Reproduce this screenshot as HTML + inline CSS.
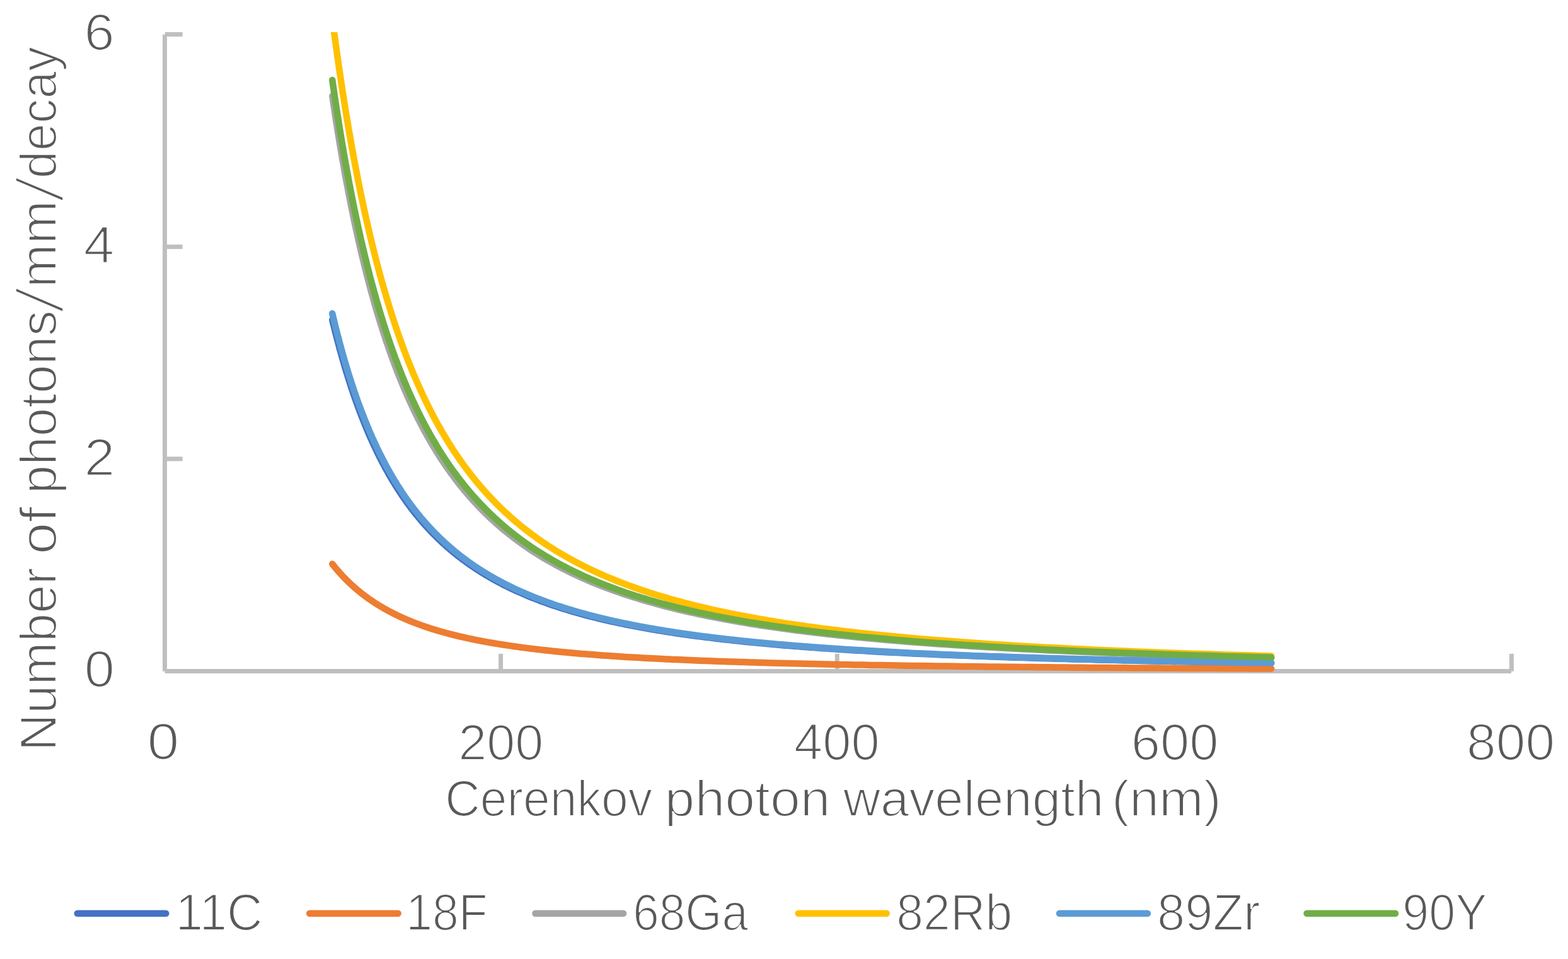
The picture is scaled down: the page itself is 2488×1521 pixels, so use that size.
<!DOCTYPE html>
<html><head><meta charset="utf-8"><title>Cerenkov photon wavelength chart</title>
<style>html,body{margin:0;padding:0;background:#fff;overflow:hidden;}svg{display:block;}</style>
</head><body>
<svg width="2488" height="1521" viewBox="0 0 2488 1521">
<defs><clipPath id="pc"><rect x="250" y="51" width="2200" height="1030"/></clipPath></defs>
<rect width="2488" height="1521" fill="#fff"/>
<line x1="261.5" y1="54.8" x2="261.5" y2="1064.8" stroke="#BFBFBF" stroke-width="7"/>
<line x1="261.8" y1="1064.5" x2="2398" y2="1064.5" stroke="#BFBFBF" stroke-width="7"/>
<line x1="261.8" y1="54.5" x2="289.6" y2="54.5" stroke="#BFBFBF" stroke-width="7"/>
<line x1="261.8" y1="391.4" x2="289.6" y2="391.4" stroke="#BFBFBF" stroke-width="7"/>
<line x1="261.8" y1="727.8" x2="289.6" y2="727.8" stroke="#BFBFBF" stroke-width="7"/>
<line x1="794.6" y1="1036.9" x2="794.6" y2="1064.7" stroke="#BFBFBF" stroke-width="7"/>
<line x1="1328.3" y1="1036.9" x2="1328.3" y2="1064.7" stroke="#BFBFBF" stroke-width="7"/>
<line x1="1863.4" y1="1036.9" x2="1863.4" y2="1064.7" stroke="#BFBFBF" stroke-width="7"/>
<line x1="2398.4" y1="1036.9" x2="2398.4" y2="1064.7" stroke="#BFBFBF" stroke-width="7"/>
<g clip-path="url(#pc)" fill="none" stroke-width="10.5" stroke-linejoin="round" stroke-linecap="round">
<path d="M527.3 507.3 L528.6 512.9 L530.0 518.3 L531.3 523.7 L532.6 529.0 L534.0 534.2 L535.3 539.3 L536.7 544.4 L538.0 549.4 L539.3 554.3 L540.7 559.1 L542.0 563.9 L543.3 568.6 L544.7 573.3 L546.0 577.8 L547.3 582.4 L548.7 586.8 L550.0 591.2 L551.4 595.5 L552.7 599.8 L554.0 604.0 L555.4 608.2 L556.7 612.3 L558.0 616.3 L559.4 620.3 L560.7 624.3 L562.0 628.2 L563.4 632.0 L564.7 635.8 L566.1 639.5 L567.4 643.2 L568.7 646.8 L570.1 650.4 L571.4 654.0 L572.7 657.5 L574.1 660.9 L575.4 664.3 L576.8 667.7 L578.1 671.0 L579.4 674.3 L580.8 677.6 L582.1 680.8 L583.4 683.9 L584.8 687.1 L586.1 690.2 L587.4 693.2 L588.8 696.2 L590.1 699.2 L591.5 702.1 L592.8 705.0 L594.1 707.9 L595.5 710.7 L596.8 713.5 L598.1 716.3 L599.5 719.1 L600.8 721.8 L602.1 724.4 L603.5 727.1 L604.8 729.7 L606.2 732.3 L607.5 734.8 L608.8 737.3 L610.2 739.8 L611.5 742.3 L612.8 744.7 L614.2 747.1 L615.5 749.5 L616.8 751.9 L618.2 754.2 L619.5 756.5 L620.9 758.8 L622.2 761.0 L623.5 763.3 L624.9 765.5 L626.2 767.6 L627.5 769.8 L628.9 771.9 L630.2 774.0 L631.5 776.1 L632.9 778.2 L634.2 780.2 L635.6 782.2 L636.9 784.2 L638.2 786.2 L639.6 788.2 L640.9 790.1 L642.2 792.0 L643.6 793.9 L644.9 795.8 L646.2 797.7 L647.6 799.5 L648.9 801.3 L650.3 803.1 L651.6 804.9 L652.9 806.7 L654.3 808.4 L655.6 810.1 L656.9 811.8 L658.3 813.5 L659.6 815.2 L661.0 816.9 L662.3 818.5 L663.6 820.1 L665.0 821.7 L666.3 823.3 L667.6 824.9 L669.0 826.5 L670.3 828.0 L671.6 829.6 L673.0 831.1 L674.3 832.6 L675.7 834.1 L677.0 835.6 L678.3 837.0 L679.7 838.5 L681.0 839.9 L682.3 841.3 L683.7 842.7 L685.0 844.1 L686.3 845.5 L687.7 846.9 L689.0 848.2 L690.4 849.5 L691.7 850.9 L693.0 852.2 L694.4 853.5 L695.7 854.8 L697.0 856.1 L698.4 857.3 L699.7 858.6 L701.0 859.8 L702.4 861.1 L703.7 862.3 L705.1 863.5 L706.4 864.7 L707.7 865.9 L709.1 867.1 L710.4 868.3 L711.7 869.4 L713.1 870.6 L714.4 871.7 L715.7 872.8 L717.1 874.0 L718.4 875.1 L719.8 876.2 L721.1 877.3 L722.4 878.3 L723.8 879.4 L725.1 880.5 L726.4 881.5 L727.8 882.6 L729.1 883.6 L730.4 884.6 L731.8 885.6 L733.1 886.7 L734.5 887.7 L735.8 888.6 L737.1 889.6 L738.5 890.6 L739.8 891.6 L741.1 892.5 L742.5 893.5 L743.8 894.4 L745.1 895.4 L746.5 896.3 L747.8 897.2 L749.2 898.1 L750.5 899.0 L751.8 899.9 L753.2 900.8 L754.5 901.7 L755.8 902.6 L757.2 903.4 L758.5 904.3 L759.9 905.2 L761.2 906.0 L762.5 906.9 L763.9 907.7 L765.2 908.5 L766.5 909.3 L767.9 910.2 L769.2 911.0 L770.5 911.8 L771.9 912.6 L773.2 913.4 L774.6 914.1 L775.9 914.9 L777.2 915.7 L778.6 916.5 L779.9 917.2 L781.2 918.0 L782.6 918.7 L783.9 919.5 L785.2 920.2 L786.6 920.9 L787.9 921.7 L789.3 922.4 L790.6 923.1 L791.9 923.8 L793.3 924.5 L794.6 925.2 L799.9 928.0 L805.3 930.6 L810.6 933.2 L816.0 935.7 L821.3 938.2 L826.7 940.5 L832.0 942.8 L837.4 945.1 L842.7 947.3 L848.1 949.4 L853.4 951.4 L858.8 953.5 L864.1 955.4 L869.4 957.3 L874.8 959.2 L880.1 961.0 L885.5 962.7 L890.8 964.5 L896.2 966.1 L901.5 967.8 L906.9 969.4 L912.2 970.9 L917.6 972.4 L922.9 973.9 L928.2 975.4 L933.6 976.8 L938.9 978.1 L944.3 979.5 L949.6 980.8 L955.0 982.1 L960.3 983.3 L965.7 984.6 L971.0 985.8 L976.4 986.9 L981.7 988.1 L987.1 989.2 L992.4 990.3 L997.7 991.4 L1003.1 992.4 L1008.4 993.4 L1013.8 994.4 L1019.1 995.4 L1024.5 996.4 L1029.8 997.3 L1035.2 998.2 L1040.5 999.2 L1045.9 1000.0 L1051.2 1000.9 L1056.6 1001.8 L1061.9 1002.6 L1067.2 1003.4 L1072.6 1004.2 L1077.9 1005.0 L1083.3 1005.8 L1088.6 1006.5 L1094.0 1007.3 L1099.3 1008.0 L1104.7 1008.7 L1110.0 1009.4 L1115.4 1010.1 L1120.7 1010.8 L1126.1 1011.4 L1131.4 1012.1 L1136.7 1012.7 L1142.1 1013.3 L1147.4 1014.0 L1152.8 1014.6 L1158.1 1015.1 L1163.5 1015.7 L1168.8 1016.3 L1174.2 1016.9 L1179.5 1017.4 L1184.9 1018.0 L1190.2 1018.5 L1195.6 1019.0 L1200.9 1019.5 L1206.2 1020.0 L1211.6 1020.5 L1216.9 1021.0 L1222.3 1021.5 L1227.6 1022.0 L1233.0 1022.4 L1238.3 1022.9 L1243.7 1023.4 L1249.0 1023.8 L1254.4 1024.2 L1259.7 1024.7 L1265.0 1025.1 L1270.4 1025.5 L1275.7 1025.9 L1281.1 1026.3 L1286.4 1026.7 L1291.8 1027.1 L1297.1 1027.5 L1302.5 1027.9 L1307.8 1028.2 L1313.2 1028.6 L1318.5 1029.0 L1323.9 1029.3 L1329.2 1029.7 L1342.6 1030.5 L1355.9 1031.4 L1369.3 1032.1 L1382.7 1032.9 L1396.0 1033.7 L1409.4 1034.4 L1422.8 1035.1 L1436.1 1035.7 L1449.5 1036.4 L1462.8 1037.0 L1476.2 1037.6 L1489.6 1038.2 L1502.9 1038.7 L1516.3 1039.3 L1529.7 1039.8 L1543.0 1040.3 L1556.4 1040.8 L1569.8 1041.3 L1583.1 1041.8 L1596.5 1042.2 L1609.9 1042.7 L1623.2 1043.1 L1636.6 1043.5 L1650.0 1043.9 L1663.3 1044.3 L1676.7 1044.7 L1690.1 1045.0 L1703.4 1045.4 L1716.8 1045.7 L1730.2 1046.1 L1743.5 1046.4 L1756.9 1046.7 L1770.2 1047.0 L1783.6 1047.4 L1797.0 1047.6 L1810.3 1047.9 L1823.7 1048.2 L1837.1 1048.5 L1850.4 1048.8 L1863.8 1049.0 L1877.2 1049.3 L1890.5 1049.5 L1903.9 1049.8 L1917.3 1050.0 L1930.6 1050.2 L1944.0 1050.5 L1957.4 1050.7 L1970.7 1050.9 L1984.1 1051.1 L1997.5 1051.3 L2010.8 1051.5 L2017.2 1051.6" stroke="#4472C4"/>
<path d="M527.3 894.5 L528.6 896.2 L530.0 897.8 L531.3 899.5 L532.6 901.1 L534.0 902.7 L535.3 904.2 L536.7 905.8 L538.0 907.3 L539.3 908.8 L540.7 910.3 L542.0 911.8 L543.3 913.2 L544.7 914.6 L546.0 916.0 L547.3 917.4 L548.7 918.7 L550.0 920.1 L551.4 921.4 L552.7 922.7 L554.0 924.0 L555.4 925.3 L556.7 926.5 L558.0 927.7 L559.4 929.0 L560.7 930.2 L562.0 931.4 L563.4 932.5 L564.7 933.7 L566.1 934.8 L567.4 935.9 L568.7 937.1 L570.1 938.2 L571.4 939.2 L572.7 940.3 L574.1 941.4 L575.4 942.4 L576.8 943.4 L578.1 944.4 L579.4 945.4 L580.8 946.4 L582.1 947.4 L583.4 948.4 L584.8 949.3 L586.1 950.3 L587.4 951.2 L588.8 952.1 L590.1 953.0 L591.5 953.9 L592.8 954.8 L594.1 955.7 L595.5 956.6 L596.8 957.4 L598.1 958.3 L599.5 959.1 L600.8 959.9 L602.1 960.7 L603.5 961.5 L604.8 962.3 L606.2 963.1 L607.5 963.9 L608.8 964.7 L610.2 965.4 L611.5 966.2 L612.8 966.9 L614.2 967.7 L615.5 968.4 L616.8 969.1 L618.2 969.8 L619.5 970.5 L620.9 971.2 L622.2 971.9 L623.5 972.6 L624.9 973.3 L626.2 973.9 L627.5 974.6 L628.9 975.2 L630.2 975.9 L631.5 976.5 L632.9 977.1 L634.2 977.8 L635.6 978.4 L636.9 979.0 L638.2 979.6 L639.6 980.2 L640.9 980.8 L642.2 981.4 L643.6 981.9 L644.9 982.5 L646.2 983.1 L647.6 983.6 L648.9 984.2 L650.3 984.7 L651.6 985.3 L652.9 985.8 L654.3 986.4 L655.6 986.9 L656.9 987.4 L658.3 987.9 L659.6 988.4 L661.0 988.9 L662.3 989.4 L663.6 989.9 L665.0 990.4 L666.3 990.9 L667.6 991.4 L669.0 991.9 L670.3 992.3 L671.6 992.8 L673.0 993.3 L674.3 993.7 L675.7 994.2 L677.0 994.6 L678.3 995.1 L679.7 995.5 L681.0 996.0 L682.3 996.4 L683.7 996.8 L685.0 997.3 L686.3 997.7 L687.7 998.1 L689.0 998.5 L690.4 998.9 L691.7 999.3 L693.0 999.7 L694.4 1000.1 L695.7 1000.5 L697.0 1000.9 L698.4 1001.3 L699.7 1001.7 L701.0 1002.1 L702.4 1002.4 L703.7 1002.8 L705.1 1003.2 L706.4 1003.5 L707.7 1003.9 L709.1 1004.3 L710.4 1004.6 L711.7 1005.0 L713.1 1005.3 L714.4 1005.7 L715.7 1006.0 L717.1 1006.4 L718.4 1006.7 L719.8 1007.0 L721.1 1007.4 L722.4 1007.7 L723.8 1008.0 L725.1 1008.3 L726.4 1008.7 L727.8 1009.0 L729.1 1009.3 L730.4 1009.6 L731.8 1009.9 L733.1 1010.2 L734.5 1010.5 L735.8 1010.8 L737.1 1011.1 L738.5 1011.4 L739.8 1011.7 L741.1 1012.0 L742.5 1012.3 L743.8 1012.6 L745.1 1012.9 L746.5 1013.2 L747.8 1013.5 L749.2 1013.7 L750.5 1014.0 L751.8 1014.3 L753.2 1014.6 L754.5 1014.8 L755.8 1015.1 L757.2 1015.4 L758.5 1015.6 L759.9 1015.9 L761.2 1016.1 L762.5 1016.4 L763.9 1016.7 L765.2 1016.9 L766.5 1017.2 L767.9 1017.4 L769.2 1017.7 L770.5 1017.9 L771.9 1018.1 L773.2 1018.4 L774.6 1018.6 L775.9 1018.9 L777.2 1019.1 L778.6 1019.3 L779.9 1019.6 L781.2 1019.8 L782.6 1020.0 L783.9 1020.2 L785.2 1020.5 L786.6 1020.7 L787.9 1020.9 L789.3 1021.1 L790.6 1021.4 L791.9 1021.6 L793.3 1021.8 L794.6 1022.0 L799.9 1022.8 L805.3 1023.6 L810.6 1024.4 L816.0 1025.2 L821.3 1025.9 L826.7 1026.7 L832.0 1027.4 L837.4 1028.1 L842.7 1028.7 L848.1 1029.4 L853.4 1030.0 L858.8 1030.6 L864.1 1031.2 L869.4 1031.8 L874.8 1032.4 L880.1 1032.9 L885.5 1033.5 L890.8 1034.0 L896.2 1034.5 L901.5 1035.0 L906.9 1035.5 L912.2 1035.9 L917.6 1036.4 L922.9 1036.9 L928.2 1037.3 L933.6 1037.7 L938.9 1038.1 L944.3 1038.6 L949.6 1039.0 L955.0 1039.4 L960.3 1039.7 L965.7 1040.1 L971.0 1040.5 L976.4 1040.8 L981.7 1041.2 L987.1 1041.5 L992.4 1041.9 L997.7 1042.2 L1003.1 1042.5 L1008.4 1042.8 L1013.8 1043.1 L1019.1 1043.4 L1024.5 1043.7 L1029.8 1044.0 L1035.2 1044.3 L1040.5 1044.6 L1045.9 1044.8 L1051.2 1045.1 L1056.6 1045.4 L1061.9 1045.6 L1067.2 1045.9 L1072.6 1046.1 L1077.9 1046.3 L1083.3 1046.6 L1088.6 1046.8 L1094.0 1047.0 L1099.3 1047.3 L1104.7 1047.5 L1110.0 1047.7 L1115.4 1047.9 L1120.7 1048.1 L1126.1 1048.3 L1131.4 1048.5 L1136.7 1048.7 L1142.1 1048.9 L1147.4 1049.1 L1152.8 1049.3 L1158.1 1049.4 L1163.5 1049.6 L1168.8 1049.8 L1174.2 1050.0 L1179.5 1050.1 L1184.9 1050.3 L1190.2 1050.5 L1195.6 1050.6 L1200.9 1050.8 L1206.2 1050.9 L1211.6 1051.1 L1216.9 1051.2 L1222.3 1051.4 L1227.6 1051.5 L1233.0 1051.7 L1238.3 1051.8 L1243.7 1051.9 L1249.0 1052.1 L1254.4 1052.2 L1259.7 1052.3 L1265.0 1052.5 L1270.4 1052.6 L1275.7 1052.7 L1281.1 1052.8 L1286.4 1053.0 L1291.8 1053.1 L1297.1 1053.2 L1302.5 1053.3 L1307.8 1053.4 L1313.2 1053.5 L1318.5 1053.7 L1323.9 1053.8 L1329.2 1053.9 L1342.6 1054.1 L1355.9 1054.4 L1369.3 1054.6 L1382.7 1054.9 L1396.0 1055.1 L1409.4 1055.3 L1422.8 1055.5 L1436.1 1055.7 L1449.5 1055.9 L1462.8 1056.1 L1476.2 1056.3 L1489.6 1056.5 L1502.9 1056.6 L1516.3 1056.8 L1529.7 1057.0 L1543.0 1057.1 L1556.4 1057.3 L1569.8 1057.4 L1583.1 1057.6 L1596.5 1057.7 L1609.9 1057.8 L1623.2 1058.0 L1636.6 1058.1 L1650.0 1058.2 L1663.3 1058.3 L1676.7 1058.4 L1690.1 1058.6 L1703.4 1058.7 L1716.8 1058.8 L1730.2 1058.9 L1743.5 1059.0 L1756.9 1059.1 L1770.2 1059.2 L1783.6 1059.3 L1797.0 1059.4 L1810.3 1059.4 L1823.7 1059.5 L1837.1 1059.6 L1850.4 1059.7 L1863.8 1059.8 L1877.2 1059.9 L1890.5 1059.9 L1903.9 1060.0 L1917.3 1060.1 L1930.6 1060.1 L1944.0 1060.2 L1957.4 1060.3 L1970.7 1060.3 L1984.1 1060.4 L1997.5 1060.5 L2010.8 1060.5 L2017.2 1060.6" stroke="#ED7D31"/>
<path d="M527.3 152.2 L528.6 161.2 L530.0 170.1 L531.3 178.9 L532.6 187.6 L534.0 196.1 L535.3 204.5 L536.7 212.8 L538.0 221.0 L539.3 229.0 L540.7 237.0 L542.0 244.8 L543.3 252.5 L544.7 260.1 L546.0 267.6 L547.3 275.0 L548.7 282.3 L550.0 289.5 L551.4 296.6 L552.7 303.6 L554.0 310.5 L555.4 317.3 L556.7 324.0 L558.0 330.6 L559.4 337.2 L560.7 343.6 L562.0 350.0 L563.4 356.3 L564.7 362.5 L566.1 368.6 L567.4 374.6 L568.7 380.6 L570.1 386.5 L571.4 392.3 L572.7 398.0 L574.1 403.7 L575.4 409.3 L576.8 414.8 L578.1 420.2 L579.4 425.6 L580.8 430.9 L582.1 436.2 L583.4 441.4 L584.8 446.5 L586.1 451.5 L587.4 456.5 L588.8 461.5 L590.1 466.3 L591.5 471.1 L592.8 475.9 L594.1 480.6 L595.5 485.2 L596.8 489.8 L598.1 494.4 L599.5 498.8 L600.8 503.3 L602.1 507.6 L603.5 512.0 L604.8 516.2 L606.2 520.5 L607.5 524.6 L608.8 528.8 L610.2 532.9 L611.5 536.9 L612.8 540.9 L614.2 544.8 L615.5 548.7 L616.8 552.6 L618.2 556.4 L619.5 560.2 L620.9 563.9 L622.2 567.6 L623.5 571.2 L624.9 574.8 L626.2 578.4 L627.5 581.9 L628.9 585.4 L630.2 588.9 L631.5 592.3 L632.9 595.7 L634.2 599.0 L635.6 602.3 L636.9 605.6 L638.2 608.8 L639.6 612.0 L640.9 615.2 L642.2 618.3 L643.6 621.4 L644.9 624.5 L646.2 627.6 L647.6 630.6 L648.9 633.5 L650.3 636.5 L651.6 639.4 L652.9 642.3 L654.3 645.1 L655.6 648.0 L656.9 650.8 L658.3 653.6 L659.6 656.3 L661.0 659.0 L662.3 661.7 L663.6 664.4 L665.0 667.0 L666.3 669.6 L667.6 672.2 L669.0 674.8 L670.3 677.3 L671.6 679.8 L673.0 682.3 L674.3 684.8 L675.7 687.2 L677.0 689.6 L678.3 692.0 L679.7 694.4 L681.0 696.7 L682.3 699.0 L683.7 701.3 L685.0 703.6 L686.3 705.9 L687.7 708.1 L689.0 710.3 L690.4 712.5 L691.7 714.7 L693.0 716.9 L694.4 719.0 L695.7 721.1 L697.0 723.2 L698.4 725.3 L699.7 727.3 L701.0 729.4 L702.4 731.4 L703.7 733.4 L705.1 735.4 L706.4 737.4 L707.7 739.3 L709.1 741.2 L710.4 743.2 L711.7 745.1 L713.1 746.9 L714.4 748.8 L715.7 750.7 L717.1 752.5 L718.4 754.3 L719.8 756.1 L721.1 757.9 L722.4 759.7 L723.8 761.4 L725.1 763.2 L726.4 764.9 L727.8 766.6 L729.1 768.3 L730.4 770.0 L731.8 771.6 L733.1 773.3 L734.5 774.9 L735.8 776.5 L737.1 778.2 L738.5 779.8 L739.8 781.3 L741.1 782.9 L742.5 784.5 L743.8 786.0 L745.1 787.5 L746.5 789.1 L747.8 790.6 L749.2 792.1 L750.5 793.6 L751.8 795.0 L753.2 796.5 L754.5 797.9 L755.8 799.4 L757.2 800.8 L758.5 802.2 L759.9 803.6 L761.2 805.0 L762.5 806.4 L763.9 807.7 L765.2 809.1 L766.5 810.4 L767.9 811.8 L769.2 813.1 L770.5 814.4 L771.9 815.7 L773.2 817.0 L774.6 818.3 L775.9 819.6 L777.2 820.8 L778.6 822.1 L779.9 823.3 L781.2 824.6 L782.6 825.8 L783.9 827.0 L785.2 828.2 L786.6 829.4 L787.9 830.6 L789.3 831.8 L790.6 833.0 L791.9 834.1 L793.3 835.3 L794.6 836.4 L799.9 840.9 L805.3 845.3 L810.6 849.5 L816.0 853.6 L821.3 857.6 L826.7 861.5 L832.0 865.3 L837.4 869.0 L842.7 872.5 L848.1 876.0 L853.4 879.4 L858.8 882.7 L864.1 885.9 L869.4 889.0 L874.8 892.0 L880.1 895.0 L885.5 897.9 L890.8 900.7 L896.2 903.4 L901.5 906.1 L906.9 908.7 L912.2 911.3 L917.6 913.7 L922.9 916.2 L928.2 918.5 L933.6 920.8 L938.9 923.1 L944.3 925.3 L949.6 927.4 L955.0 929.5 L960.3 931.6 L965.7 933.6 L971.0 935.6 L976.4 937.5 L981.7 939.3 L987.1 941.2 L992.4 943.0 L997.7 944.7 L1003.1 946.4 L1008.4 948.1 L1013.8 949.8 L1019.1 951.4 L1024.5 953.0 L1029.8 954.5 L1035.2 956.0 L1040.5 957.5 L1045.9 958.9 L1051.2 960.4 L1056.6 961.8 L1061.9 963.1 L1067.2 964.5 L1072.6 965.8 L1077.9 967.1 L1083.3 968.3 L1088.6 969.6 L1094.0 970.8 L1099.3 972.0 L1104.7 973.1 L1110.0 974.3 L1115.4 975.4 L1120.7 976.5 L1126.1 977.6 L1131.4 978.7 L1136.7 979.7 L1142.1 980.7 L1147.4 981.7 L1152.8 982.7 L1158.1 983.7 L1163.5 984.6 L1168.8 985.6 L1174.2 986.5 L1179.5 987.4 L1184.9 988.3 L1190.2 989.2 L1195.6 990.0 L1200.9 990.9 L1206.2 991.7 L1211.6 992.5 L1216.9 993.3 L1222.3 994.1 L1227.6 994.9 L1233.0 995.6 L1238.3 996.4 L1243.7 997.1 L1249.0 997.9 L1254.4 998.6 L1259.7 999.3 L1265.0 1000.0 L1270.4 1000.6 L1275.7 1001.3 L1281.1 1002.0 L1286.4 1002.6 L1291.8 1003.3 L1297.1 1003.9 L1302.5 1004.5 L1307.8 1005.1 L1313.2 1005.7 L1318.5 1006.3 L1323.9 1006.9 L1329.2 1007.5 L1342.6 1008.9 L1355.9 1010.2 L1369.3 1011.5 L1382.7 1012.8 L1396.0 1014.0 L1409.4 1015.2 L1422.8 1016.3 L1436.1 1017.4 L1449.5 1018.4 L1462.8 1019.4 L1476.2 1020.4 L1489.6 1021.4 L1502.9 1022.3 L1516.3 1023.2 L1529.7 1024.1 L1543.0 1024.9 L1556.4 1025.7 L1569.8 1026.5 L1583.1 1027.3 L1596.5 1028.0 L1609.9 1028.7 L1623.2 1029.4 L1636.6 1030.1 L1650.0 1030.8 L1663.3 1031.4 L1676.7 1032.0 L1690.1 1032.6 L1703.4 1033.2 L1716.8 1033.8 L1730.2 1034.3 L1743.5 1034.9 L1756.9 1035.4 L1770.2 1035.9 L1783.6 1036.4 L1797.0 1036.9 L1810.3 1037.4 L1823.7 1037.8 L1837.1 1038.3 L1850.4 1038.7 L1863.8 1039.2 L1877.2 1039.6 L1890.5 1040.0 L1903.9 1040.4 L1917.3 1040.8 L1930.6 1041.1 L1944.0 1041.5 L1957.4 1041.9 L1970.7 1042.2 L1984.1 1042.6 L1997.5 1042.9 L2010.8 1043.2 L2017.2 1043.4" stroke="#A5A5A5"/>
<path d="M527.3 29.3 L528.6 39.5 L530.0 49.7 L531.3 59.6 L532.6 69.5 L534.0 79.2 L535.3 88.7 L536.7 98.1 L538.0 107.4 L539.3 116.5 L540.7 125.5 L542.0 134.4 L543.3 143.1 L544.7 151.8 L546.0 160.3 L547.3 168.7 L548.7 177.0 L550.0 185.1 L551.4 193.2 L552.7 201.1 L554.0 208.9 L555.4 216.7 L556.7 224.3 L558.0 231.8 L559.4 239.2 L560.7 246.5 L562.0 253.8 L563.4 260.9 L564.7 267.9 L566.1 274.9 L567.4 281.7 L568.7 288.5 L570.1 295.2 L571.4 301.7 L572.7 308.3 L574.1 314.7 L575.4 321.0 L576.8 327.3 L578.1 333.5 L579.4 339.6 L580.8 345.6 L582.1 351.5 L583.4 357.4 L584.8 363.2 L586.1 369.0 L587.4 374.6 L588.8 380.2 L590.1 385.8 L591.5 391.2 L592.8 396.6 L594.1 402.0 L595.5 407.2 L596.8 412.4 L598.1 417.6 L599.5 422.7 L600.8 427.7 L602.1 432.6 L603.5 437.6 L604.8 442.4 L606.2 447.2 L607.5 451.9 L608.8 456.6 L610.2 461.3 L611.5 465.8 L612.8 470.4 L614.2 474.8 L615.5 479.3 L616.8 483.6 L618.2 488.0 L619.5 492.2 L620.9 496.5 L622.2 500.7 L623.5 504.8 L624.9 508.9 L626.2 512.9 L627.5 516.9 L628.9 520.9 L630.2 524.8 L631.5 528.7 L632.9 532.5 L634.2 536.3 L635.6 540.1 L636.9 543.8 L638.2 547.5 L639.6 551.1 L640.9 554.7 L642.2 558.3 L643.6 561.8 L644.9 565.3 L646.2 568.7 L647.6 572.1 L648.9 575.5 L650.3 578.8 L651.6 582.2 L652.9 585.4 L654.3 588.7 L655.6 591.9 L656.9 595.1 L658.3 598.2 L659.6 601.3 L661.0 604.4 L662.3 607.5 L663.6 610.5 L665.0 613.5 L666.3 616.4 L667.6 619.4 L669.0 622.3 L670.3 625.1 L671.6 628.0 L673.0 630.8 L674.3 633.6 L675.7 636.4 L677.0 639.1 L678.3 641.8 L679.7 644.5 L681.0 647.2 L682.3 649.8 L683.7 652.4 L685.0 655.0 L686.3 657.6 L687.7 660.1 L689.0 662.6 L690.4 665.1 L691.7 667.6 L693.0 670.0 L694.4 672.5 L695.7 674.9 L697.0 677.2 L698.4 679.6 L699.7 681.9 L701.0 684.3 L702.4 686.5 L703.7 688.8 L705.1 691.1 L706.4 693.3 L707.7 695.5 L709.1 697.7 L710.4 699.9 L711.7 702.0 L713.1 704.2 L714.4 706.3 L715.7 708.4 L717.1 710.5 L718.4 712.5 L719.8 714.6 L721.1 716.6 L722.4 718.6 L723.8 720.6 L725.1 722.6 L726.4 724.5 L727.8 726.5 L729.1 728.4 L730.4 730.3 L731.8 732.2 L733.1 734.1 L734.5 735.9 L735.8 737.8 L737.1 739.6 L738.5 741.4 L739.8 743.2 L741.1 745.0 L742.5 746.8 L743.8 748.5 L745.1 750.2 L746.5 752.0 L747.8 753.7 L749.2 755.4 L750.5 757.1 L751.8 758.7 L753.2 760.4 L754.5 762.0 L755.8 763.7 L757.2 765.3 L758.5 766.9 L759.9 768.5 L761.2 770.0 L762.5 771.6 L763.9 773.2 L765.2 774.7 L766.5 776.2 L767.9 777.7 L769.2 779.2 L770.5 780.7 L771.9 782.2 L773.2 783.7 L774.6 785.1 L775.9 786.6 L777.2 788.0 L778.6 789.4 L779.9 790.8 L781.2 792.3 L782.6 793.6 L783.9 795.0 L785.2 796.4 L786.6 797.8 L787.9 799.1 L789.3 800.4 L790.6 801.8 L791.9 803.1 L793.3 804.4 L794.6 805.7 L799.9 810.8 L805.3 815.7 L810.6 820.5 L816.0 825.2 L821.3 829.8 L826.7 834.2 L832.0 838.4 L837.4 842.6 L842.7 846.7 L848.1 850.6 L853.4 854.4 L858.8 858.2 L864.1 861.8 L869.4 865.4 L874.8 868.8 L880.1 872.2 L885.5 875.4 L890.8 878.6 L896.2 881.7 L901.5 884.8 L906.9 887.7 L912.2 890.6 L917.6 893.4 L922.9 896.2 L928.2 898.9 L933.6 901.5 L938.9 904.0 L944.3 906.5 L949.6 909.0 L955.0 911.4 L960.3 913.7 L965.7 916.0 L971.0 918.2 L976.4 920.4 L981.7 922.5 L987.1 924.6 L992.4 926.6 L997.7 928.6 L1003.1 930.5 L1008.4 932.5 L1013.8 934.3 L1019.1 936.1 L1024.5 937.9 L1029.8 939.7 L1035.2 941.4 L1040.5 943.1 L1045.9 944.7 L1051.2 946.3 L1056.6 947.9 L1061.9 949.5 L1067.2 951.0 L1072.6 952.5 L1077.9 953.9 L1083.3 955.4 L1088.6 956.8 L1094.0 958.2 L1099.3 959.5 L1104.7 960.8 L1110.0 962.1 L1115.4 963.4 L1120.7 964.7 L1126.1 965.9 L1131.4 967.1 L1136.7 968.3 L1142.1 969.4 L1147.4 970.6 L1152.8 971.7 L1158.1 972.8 L1163.5 973.9 L1168.8 974.9 L1174.2 976.0 L1179.5 977.0 L1184.9 978.0 L1190.2 979.0 L1195.6 980.0 L1200.9 980.9 L1206.2 981.9 L1211.6 982.8 L1216.9 983.7 L1222.3 984.6 L1227.6 985.5 L1233.0 986.4 L1238.3 987.2 L1243.7 988.1 L1249.0 988.9 L1254.4 989.7 L1259.7 990.5 L1265.0 991.3 L1270.4 992.0 L1275.7 992.8 L1281.1 993.6 L1286.4 994.3 L1291.8 995.0 L1297.1 995.7 L1302.5 996.4 L1307.8 997.1 L1313.2 997.8 L1318.5 998.5 L1323.9 999.1 L1329.2 999.8 L1342.6 1001.4 L1355.9 1002.9 L1369.3 1004.4 L1382.7 1005.8 L1396.0 1007.2 L1409.4 1008.5 L1422.8 1009.8 L1436.1 1011.0 L1449.5 1012.2 L1462.8 1013.4 L1476.2 1014.5 L1489.6 1015.6 L1502.9 1016.6 L1516.3 1017.6 L1529.7 1018.6 L1543.0 1019.6 L1556.4 1020.5 L1569.8 1021.4 L1583.1 1022.3 L1596.5 1023.1 L1609.9 1023.9 L1623.2 1024.7 L1636.6 1025.5 L1650.0 1026.2 L1663.3 1026.9 L1676.7 1027.6 L1690.1 1028.3 L1703.4 1029.0 L1716.8 1029.6 L1730.2 1030.3 L1743.5 1030.9 L1756.9 1031.5 L1770.2 1032.1 L1783.6 1032.6 L1797.0 1033.2 L1810.3 1033.7 L1823.7 1034.3 L1837.1 1034.8 L1850.4 1035.3 L1863.8 1035.7 L1877.2 1036.2 L1890.5 1036.7 L1903.9 1037.1 L1917.3 1037.6 L1930.6 1038.0 L1944.0 1038.4 L1957.4 1038.8 L1970.7 1039.2 L1984.1 1039.6 L1997.5 1040.0 L2010.8 1040.4 L2017.2 1040.5" stroke="#FFC000"/>
<path d="M527.3 497.2 L528.6 502.9 L530.0 508.4 L531.3 513.9 L532.6 519.3 L534.0 524.6 L535.3 529.8 L536.7 534.9 L538.0 540.0 L539.3 545.0 L540.7 550.0 L542.0 554.8 L543.3 559.6 L544.7 564.4 L546.0 569.0 L547.3 573.6 L548.7 578.2 L550.0 582.6 L551.4 587.0 L552.7 591.4 L554.0 595.7 L555.4 599.9 L556.7 604.1 L558.0 608.2 L559.4 612.3 L560.7 616.3 L562.0 620.2 L563.4 624.1 L564.7 628.0 L566.1 631.8 L567.4 635.6 L568.7 639.3 L570.1 642.9 L571.4 646.5 L572.7 650.1 L574.1 653.6 L575.4 657.1 L576.8 660.5 L578.1 663.9 L579.4 667.3 L580.8 670.6 L582.1 673.8 L583.4 677.0 L584.8 680.2 L586.1 683.4 L587.4 686.5 L588.8 689.5 L590.1 692.6 L591.5 695.6 L592.8 698.5 L594.1 701.4 L595.5 704.3 L596.8 707.2 L598.1 710.0 L599.5 712.8 L600.8 715.5 L602.1 718.3 L603.5 721.0 L604.8 723.6 L606.2 726.2 L607.5 728.8 L608.8 731.4 L610.2 733.9 L611.5 736.5 L612.8 738.9 L614.2 741.4 L615.5 743.8 L616.8 746.2 L618.2 748.6 L619.5 750.9 L620.9 753.2 L622.2 755.5 L623.5 757.8 L624.9 760.0 L626.2 762.3 L627.5 764.5 L628.9 766.6 L630.2 768.8 L631.5 770.9 L632.9 773.0 L634.2 775.1 L635.6 777.1 L636.9 779.2 L638.2 781.2 L639.6 783.2 L640.9 785.1 L642.2 787.1 L643.6 789.0 L644.9 790.9 L646.2 792.8 L647.6 794.7 L648.9 796.5 L650.3 798.4 L651.6 800.2 L652.9 802.0 L654.3 803.8 L655.6 805.5 L656.9 807.3 L658.3 809.0 L659.6 810.7 L661.0 812.4 L662.3 814.1 L663.6 815.7 L665.0 817.3 L666.3 819.0 L667.6 820.6 L669.0 822.2 L670.3 823.7 L671.6 825.3 L673.0 826.9 L674.3 828.4 L675.7 829.9 L677.0 831.4 L678.3 832.9 L679.7 834.4 L681.0 835.8 L682.3 837.3 L683.7 838.7 L685.0 840.1 L686.3 841.5 L687.7 842.9 L689.0 844.3 L690.4 845.7 L691.7 847.0 L693.0 848.3 L694.4 849.7 L695.7 851.0 L697.0 852.3 L698.4 853.6 L699.7 854.9 L701.0 856.1 L702.4 857.4 L703.7 858.6 L705.1 859.9 L706.4 861.1 L707.7 862.3 L709.1 863.5 L710.4 864.7 L711.7 865.9 L713.1 867.1 L714.4 868.2 L715.7 869.4 L717.1 870.5 L718.4 871.6 L719.8 872.8 L721.1 873.9 L722.4 875.0 L723.8 876.1 L725.1 877.1 L726.4 878.2 L727.8 879.3 L729.1 880.3 L730.4 881.4 L731.8 882.4 L733.1 883.4 L734.5 884.4 L735.8 885.5 L737.1 886.5 L738.5 887.5 L739.8 888.4 L741.1 889.4 L742.5 890.4 L743.8 891.3 L745.1 892.3 L746.5 893.2 L747.8 894.2 L749.2 895.1 L750.5 896.0 L751.8 896.9 L753.2 897.9 L754.5 898.8 L755.8 899.6 L757.2 900.5 L758.5 901.4 L759.9 902.3 L761.2 903.1 L762.5 904.0 L763.9 904.9 L765.2 905.7 L766.5 906.5 L767.9 907.4 L769.2 908.2 L770.5 909.0 L771.9 909.8 L773.2 910.6 L774.6 911.4 L775.9 912.2 L777.2 913.0 L778.6 913.8 L779.9 914.5 L781.2 915.3 L782.6 916.1 L783.9 916.8 L785.2 917.6 L786.6 918.3 L787.9 919.1 L789.3 919.8 L790.6 920.5 L791.9 921.3 L793.3 922.0 L794.6 922.7 L799.9 925.5 L805.3 928.2 L810.6 930.8 L816.0 933.4 L821.3 935.9 L826.7 938.3 L832.0 940.6 L837.4 942.9 L842.7 945.1 L848.1 947.3 L853.4 949.4 L858.8 951.4 L864.1 953.4 L869.4 955.4 L874.8 957.3 L880.1 959.1 L885.5 960.9 L890.8 962.6 L896.2 964.4 L901.5 966.0 L906.9 967.6 L912.2 969.2 L917.6 970.8 L922.9 972.3 L928.2 973.7 L933.6 975.2 L938.9 976.6 L944.3 977.9 L949.6 979.3 L955.0 980.6 L960.3 981.9 L965.7 983.1 L971.0 984.3 L976.4 985.5 L981.7 986.7 L987.1 987.8 L992.4 988.9 L997.7 990.0 L1003.1 991.1 L1008.4 992.1 L1013.8 993.2 L1019.1 994.2 L1024.5 995.1 L1029.8 996.1 L1035.2 997.0 L1040.5 998.0 L1045.9 998.9 L1051.2 999.8 L1056.6 1000.6 L1061.9 1001.5 L1067.2 1002.3 L1072.6 1003.1 L1077.9 1003.9 L1083.3 1004.7 L1088.6 1005.5 L1094.0 1006.2 L1099.3 1007.0 L1104.7 1007.7 L1110.0 1008.4 L1115.4 1009.1 L1120.7 1009.8 L1126.1 1010.5 L1131.4 1011.1 L1136.7 1011.8 L1142.1 1012.4 L1147.4 1013.0 L1152.8 1013.6 L1158.1 1014.3 L1163.5 1014.8 L1168.8 1015.4 L1174.2 1016.0 L1179.5 1016.6 L1184.9 1017.1 L1190.2 1017.7 L1195.6 1018.2 L1200.9 1018.7 L1206.2 1019.2 L1211.6 1019.7 L1216.9 1020.2 L1222.3 1020.7 L1227.6 1021.2 L1233.0 1021.7 L1238.3 1022.2 L1243.7 1022.6 L1249.0 1023.1 L1254.4 1023.5 L1259.7 1023.9 L1265.0 1024.4 L1270.4 1024.8 L1275.7 1025.2 L1281.1 1025.6 L1286.4 1026.0 L1291.8 1026.4 L1297.1 1026.8 L1302.5 1027.2 L1307.8 1027.6 L1313.2 1028.0 L1318.5 1028.3 L1323.9 1028.7 L1329.2 1029.0 L1342.6 1029.9 L1355.9 1030.8 L1369.3 1031.6 L1382.7 1032.3 L1396.0 1033.1 L1409.4 1033.8 L1422.8 1034.5 L1436.1 1035.2 L1449.5 1035.9 L1462.8 1036.5 L1476.2 1037.1 L1489.6 1037.7 L1502.9 1038.3 L1516.3 1038.8 L1529.7 1039.4 L1543.0 1039.9 L1556.4 1040.4 L1569.8 1040.9 L1583.1 1041.3 L1596.5 1041.8 L1609.9 1042.3 L1623.2 1042.7 L1636.6 1043.1 L1650.0 1043.5 L1663.3 1043.9 L1676.7 1044.3 L1690.1 1044.7 L1703.4 1045.0 L1716.8 1045.4 L1730.2 1045.7 L1743.5 1046.1 L1756.9 1046.4 L1770.2 1046.7 L1783.6 1047.0 L1797.0 1047.3 L1810.3 1047.6 L1823.7 1047.9 L1837.1 1048.2 L1850.4 1048.5 L1863.8 1048.7 L1877.2 1049.0 L1890.5 1049.3 L1903.9 1049.5 L1917.3 1049.7 L1930.6 1050.0 L1944.0 1050.2 L1957.4 1050.4 L1970.7 1050.7 L1984.1 1050.9 L1997.5 1051.1 L2010.8 1051.3 L2017.2 1051.4" stroke="#5B9BD5"/>
<path d="M527.3 126.9 L528.6 136.2 L530.0 145.4 L531.3 154.4 L532.6 163.3 L534.0 172.1 L535.3 180.7 L536.7 189.2 L538.0 197.6 L539.3 205.9 L540.7 214.1 L542.0 222.1 L543.3 230.0 L544.7 237.9 L546.0 245.6 L547.3 253.2 L548.7 260.7 L550.0 268.1 L551.4 275.3 L552.7 282.5 L554.0 289.6 L555.4 296.6 L556.7 303.5 L558.0 310.3 L559.4 317.1 L560.7 323.7 L562.0 330.2 L563.4 336.7 L564.7 343.0 L566.1 349.3 L567.4 355.5 L568.7 361.7 L570.1 367.7 L571.4 373.7 L572.7 379.6 L574.1 385.4 L575.4 391.1 L576.8 396.8 L578.1 402.4 L579.4 407.9 L580.8 413.4 L582.1 418.8 L583.4 424.1 L584.8 429.4 L586.1 434.6 L587.4 439.7 L588.8 444.8 L590.1 449.8 L591.5 454.7 L592.8 459.6 L594.1 464.4 L595.5 469.2 L596.8 473.9 L598.1 478.6 L599.5 483.2 L600.8 487.7 L602.1 492.2 L603.5 496.7 L604.8 501.1 L606.2 505.4 L607.5 509.7 L608.8 514.0 L610.2 518.1 L611.5 522.3 L612.8 526.4 L614.2 530.4 L615.5 534.5 L616.8 538.4 L618.2 542.3 L619.5 546.2 L620.9 550.0 L622.2 553.8 L623.5 557.6 L624.9 561.3 L626.2 565.0 L627.5 568.6 L628.9 572.2 L630.2 575.7 L631.5 579.2 L632.9 582.7 L634.2 586.1 L635.6 589.5 L636.9 592.9 L638.2 596.2 L639.6 599.5 L640.9 602.8 L642.2 606.0 L643.6 609.2 L644.9 612.3 L646.2 615.5 L647.6 618.6 L648.9 621.6 L650.3 624.6 L651.6 627.6 L652.9 630.6 L654.3 633.5 L655.6 636.5 L656.9 639.3 L658.3 642.2 L659.6 645.0 L661.0 647.8 L662.3 650.6 L663.6 653.3 L665.0 656.0 L666.3 658.7 L667.6 661.3 L669.0 664.0 L670.3 666.6 L671.6 669.2 L673.0 671.7 L674.3 674.2 L675.7 676.7 L677.0 679.2 L678.3 681.7 L679.7 684.1 L681.0 686.5 L682.3 688.9 L683.7 691.3 L685.0 693.6 L686.3 696.0 L687.7 698.3 L689.0 700.5 L690.4 702.8 L691.7 705.0 L693.0 707.2 L694.4 709.4 L695.7 711.6 L697.0 713.8 L698.4 715.9 L699.7 718.0 L701.0 720.1 L702.4 722.2 L703.7 724.2 L705.1 726.3 L706.4 728.3 L707.7 730.3 L709.1 732.3 L710.4 734.3 L711.7 736.2 L713.1 738.2 L714.4 740.1 L715.7 742.0 L717.1 743.9 L718.4 745.7 L719.8 747.6 L721.1 749.4 L722.4 751.2 L723.8 753.0 L725.1 754.8 L726.4 756.6 L727.8 758.3 L729.1 760.1 L730.4 761.8 L731.8 763.5 L733.1 765.2 L734.5 766.9 L735.8 768.6 L737.1 770.2 L738.5 771.9 L739.8 773.5 L741.1 775.1 L742.5 776.7 L743.8 778.3 L745.1 779.9 L746.5 781.4 L747.8 783.0 L749.2 784.5 L750.5 786.1 L751.8 787.6 L753.2 789.1 L754.5 790.5 L755.8 792.0 L757.2 793.5 L758.5 794.9 L759.9 796.4 L761.2 797.8 L762.5 799.2 L763.9 800.6 L765.2 802.0 L766.5 803.4 L767.9 804.8 L769.2 806.1 L770.5 807.5 L771.9 808.8 L773.2 810.2 L774.6 811.5 L775.9 812.8 L777.2 814.1 L778.6 815.4 L779.9 816.7 L781.2 817.9 L782.6 819.2 L783.9 820.4 L785.2 821.7 L786.6 822.9 L787.9 824.1 L789.3 825.3 L790.6 826.5 L791.9 827.7 L793.3 828.9 L794.6 830.1 L799.9 834.7 L805.3 839.2 L810.6 843.6 L816.0 847.8 L821.3 851.9 L826.7 855.9 L832.0 859.8 L837.4 863.5 L842.7 867.2 L848.1 870.8 L853.4 874.3 L858.8 877.6 L864.1 880.9 L869.4 884.1 L874.8 887.3 L880.1 890.3 L885.5 893.3 L890.8 896.2 L896.2 899.0 L901.5 901.7 L906.9 904.4 L912.2 907.0 L917.6 909.6 L922.9 912.1 L928.2 914.5 L933.6 916.9 L938.9 919.2 L944.3 921.4 L949.6 923.6 L955.0 925.8 L960.3 927.9 L965.7 930.0 L971.0 932.0 L976.4 934.0 L981.7 935.9 L987.1 937.8 L992.4 939.6 L997.7 941.4 L1003.1 943.2 L1008.4 944.9 L1013.8 946.6 L1019.1 948.3 L1024.5 949.9 L1029.8 951.5 L1035.2 953.0 L1040.5 954.5 L1045.9 956.0 L1051.2 957.5 L1056.6 958.9 L1061.9 960.3 L1067.2 961.7 L1072.6 963.0 L1077.9 964.4 L1083.3 965.7 L1088.6 966.9 L1094.0 968.2 L1099.3 969.4 L1104.7 970.6 L1110.0 971.8 L1115.4 972.9 L1120.7 974.1 L1126.1 975.2 L1131.4 976.3 L1136.7 977.3 L1142.1 978.4 L1147.4 979.4 L1152.8 980.5 L1158.1 981.5 L1163.5 982.4 L1168.8 983.4 L1174.2 984.3 L1179.5 985.3 L1184.9 986.2 L1190.2 987.1 L1195.6 988.0 L1200.9 988.8 L1206.2 989.7 L1211.6 990.5 L1216.9 991.3 L1222.3 992.2 L1227.6 993.0 L1233.0 993.7 L1238.3 994.5 L1243.7 995.3 L1249.0 996.0 L1254.4 996.7 L1259.7 997.5 L1265.0 998.2 L1270.4 998.9 L1275.7 999.6 L1281.1 1000.2 L1286.4 1000.9 L1291.8 1001.6 L1297.1 1002.2 L1302.5 1002.9 L1307.8 1003.5 L1313.2 1004.1 L1318.5 1004.7 L1323.9 1005.3 L1329.2 1005.9 L1342.6 1007.3 L1355.9 1008.7 L1369.3 1010.1 L1382.7 1011.3 L1396.0 1012.6 L1409.4 1013.8 L1422.8 1015.0 L1436.1 1016.1 L1449.5 1017.2 L1462.8 1018.2 L1476.2 1019.2 L1489.6 1020.2 L1502.9 1021.1 L1516.3 1022.1 L1529.7 1022.9 L1543.0 1023.8 L1556.4 1024.6 L1569.8 1025.4 L1583.1 1026.2 L1596.5 1027.0 L1609.9 1027.7 L1623.2 1028.5 L1636.6 1029.1 L1650.0 1029.8 L1663.3 1030.5 L1676.7 1031.1 L1690.1 1031.7 L1703.4 1032.3 L1716.8 1032.9 L1730.2 1033.5 L1743.5 1034.1 L1756.9 1034.6 L1770.2 1035.1 L1783.6 1035.6 L1797.0 1036.1 L1810.3 1036.6 L1823.7 1037.1 L1837.1 1037.6 L1850.4 1038.0 L1863.8 1038.5 L1877.2 1038.9 L1890.5 1039.3 L1903.9 1039.7 L1917.3 1040.1 L1930.6 1040.5 L1944.0 1040.9 L1957.4 1041.2 L1970.7 1041.6 L1984.1 1042.0 L1997.5 1042.3 L2010.8 1042.6 L2017.2 1042.8" stroke="#70AD47"/>
</g>
<line x1="122.8" y1="1448.7" x2="263.2" y2="1448.7" stroke="#4472C4" stroke-width="10.6" stroke-linecap="round"/>
<line x1="491.2" y1="1448.7" x2="631.6" y2="1448.7" stroke="#ED7D31" stroke-width="10.6" stroke-linecap="round"/>
<line x1="849.5" y1="1448.7" x2="989.1" y2="1448.7" stroke="#A5A5A5" stroke-width="10.6" stroke-linecap="round"/>
<line x1="1266.9" y1="1448.7" x2="1406.7" y2="1448.7" stroke="#FFC000" stroke-width="10.6" stroke-linecap="round"/>
<line x1="1681.1" y1="1448.7" x2="1820.8" y2="1448.7" stroke="#5B9BD5" stroke-width="10.6" stroke-linecap="round"/>
<line x1="2073.6" y1="1448.7" x2="2214.0" y2="1448.7" stroke="#70AD47" stroke-width="10.6" stroke-linecap="round"/>
<g font-family="'Liberation Sans', Arial, sans-serif" font-size="80" fill="#595959" stroke="#fff" stroke-width="2.20">
<text transform="matrix(1.08408 0 0 1.00771 133.61 79.09)">6</text>
<text transform="matrix(1.09366 0 0 1.04875 132.64 416.85)">4</text>
<text transform="matrix(1.09751 0 0 1.04950 133.55 753.54)">2</text>
<text transform="matrix(1.08224 0 0 1.02013 133.70 1088.70)">0</text>
<text transform="matrix(1.14310 0 0 1.02013 233.59 1204.19)">0</text>
<text transform="matrix(1.01301 0 0 1.00579 727.23 1205.12)">200</text>
<text transform="matrix(1.01762 0 0 1.01192 1260.03 1205.09)">400</text>
<text transform="matrix(1.03987 0 0 1.01192 1794.82 1205.09)">600</text>
<text transform="matrix(1.05097 0 0 1.01192 2326.90 1205.09)">800</text>
<text transform="matrix(0.96102 0 0 0.98538 706.16 1294.26)">Cerenkov</text>
<text transform="matrix(1.07539 0 0 0.98538 1054.60 1294.26)">photon</text>
<text transform="matrix(1.02160 0 0 0.98538 1337.99 1294.26)">wavelength</text>
<text transform="matrix(1.06058 0 0 0.98538 1763.67 1294.26)">(nm)</text>
<text transform="translate(88.60 1191.17) rotate(-90) scale(1.02321 1.01000)">Number</text>
<text transform="translate(88.60 879.56) rotate(-90) scale(1.14006 1.01000)">of</text>
<text transform="translate(88.60 783.14) rotate(-90) scale(1.02221 1.01000)">photons</text>
<text transform="translate(101.11 499.13) rotate(-90) scale(2.11459 1.34576)" stroke="#fff" stroke-width="4.2">/</text>
<text transform="translate(88.60 456.25) rotate(-90) scale(1.03813 1.01000)">mm</text>
<text transform="translate(101.11 323.30) rotate(-90) scale(2.08222 1.34576)" stroke="#fff" stroke-width="4.2">/</text>
<text transform="translate(88.60 282.95) rotate(-90) scale(0.97961 1.01000)">decay</text>
<text transform="matrix(0.98082 0 0 1.02013 278.60 1475.00)">11C</text>
<text transform="matrix(0.93939 0 0 1.01884 644.16 1475.00)">18F</text>
<text transform="matrix(0.93355 0 0 1.02013 1004.25 1475.00)">68Ga</text>
<text transform="matrix(0.96221 0 0 1.02610 1422.32 1474.99)">82Rb</text>
<text transform="matrix(0.99402 0 0 1.02013 1836.09 1475.00)">89Zr</text>
<text transform="matrix(0.94522 0 0 1.02407 2225.25 1474.69)">90Y</text>
</g>
</svg>
</body></html>
